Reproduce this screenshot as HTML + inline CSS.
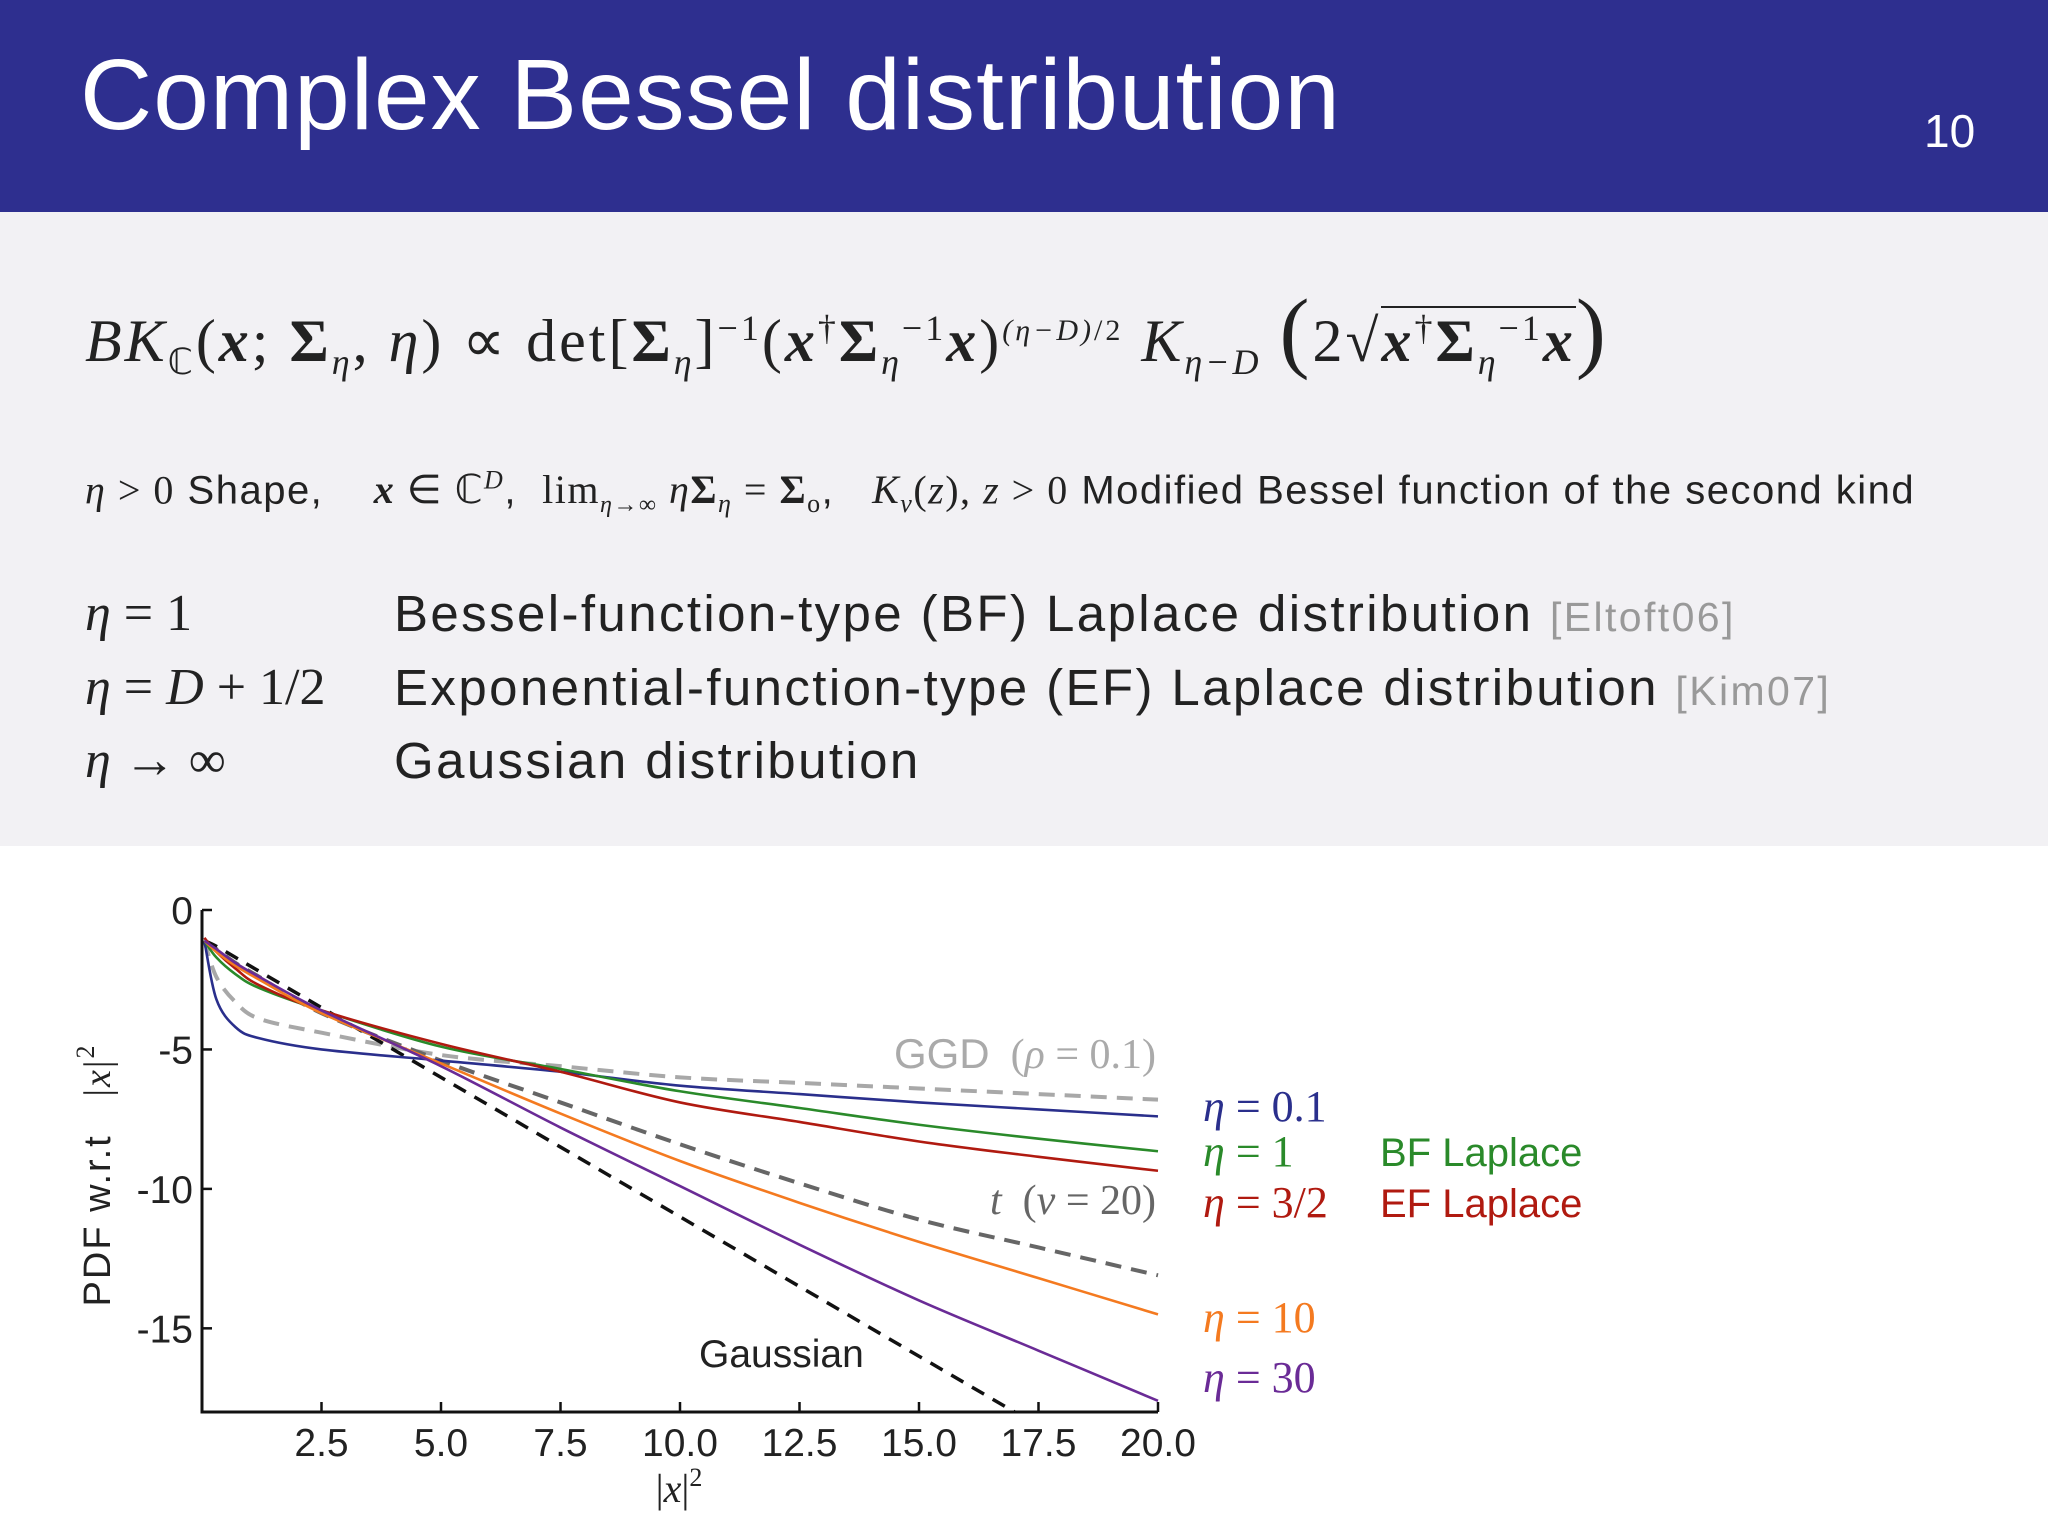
<!DOCTYPE html>
<html><head><meta charset="utf-8">
<style>
html,body{margin:0;padding:0}
body{width:2048px;height:1536px;position:relative;background:#fff;overflow:hidden;font-family:"Liberation Sans",sans-serif}
.hdr{position:absolute;left:0;top:0;width:2048px;height:212px;background:#2e2f8f}
.title{position:absolute;left:80px;top:38px;font-size:100px;color:#fff;letter-spacing:1px;white-space:nowrap}
.pg{position:absolute;left:1924px;top:104px;font-size:46px;color:#fff}
.body{position:absolute;left:0;top:212px;width:2048px;height:634px;background:#f2f1f4}
.m{font-family:"Liberation Serif",serif}
.t{position:absolute;white-space:nowrap;color:#222}
i{font-style:italic}
</style></head><body>
<div class="hdr">
<div class="title">Complex Bessel distribution</div>
<div class="pg">10</div>
</div>
<div class="body"></div>
<div class="t m" style="left:85px;top:280px;font-size:60px;letter-spacing:3px"><i>BK</i><sub style="font-size:36px">ℂ</sub>(<b><i>x</i></b>; <b>Σ</b><sub style="font-size:36px"><i>η</i></sub>, <i>η</i>) ∝ det[<b>Σ</b><sub style="font-size:36px"><i>η</i></sub>]<sup style="font-size:36px">−1</sup>(<b><i>x</i></b><sup style="font-size:36px">†</sup><b>Σ</b><sub style="font-size:36px"><i>η</i></sub><sup style="font-size:36px">−1</sup><b><i>x</i></b>)<sup style="font-size:30px"><i>(η−D)</i>/2</sup> <i>K</i><sub style="font-size:36px"><i>η−D</i></sub> <span style="font-size:90px">(</span>2√<span style="border-top:2px solid #222"><b><i>x</i></b><sup style="font-size:36px">†</sup><b>Σ</b><sub style="font-size:36px"><i>η</i></sub><sup style="font-size:36px">−1</sup><b><i>x</i></b></span><span style="font-size:90px">)</span></div>
<div class="t" style="left:85px;top:466px;font-size:40px;letter-spacing:1.5px"><span class="m"><i>η</i> &gt; 0</span> Shape,&nbsp;&nbsp;&nbsp; <span class="m"><b><i>x</i></b> ∈ ℂ<sup style="font-size:26px"><i>D</i></sup></span>, &nbsp;<span class="m">lim<sub style="font-size:24px"><i>η</i>→∞</sub> <i>η</i><b>Σ</b><sub style="font-size:26px"><i>η</i></sub> = <b>Σ</b><sub style="font-size:26px">o</sub></span>, &nbsp;&nbsp;<span class="m"><i>K<sub style="font-size:26px">ν</sub></i>(<i>z</i>), <i>z</i> &gt; 0</span> Modified Bessel function of the second kind</div>
<div class="t m" style="left:85px;top:584px;font-size:52px"><i>η</i> = 1</div>
<div class="t" style="left:394px;top:584px;font-size:51px;letter-spacing:2.4px">Bessel-function-type (BF) Laplace distribution <span style="color:#999;font-size:41px">[Eltoft06]</span></div>
<div class="t m" style="left:85px;top:658px;font-size:52px"><i>η</i> = <i>D</i> + 1/2</div>
<div class="t" style="left:394px;top:658px;font-size:51px;letter-spacing:2.4px">Exponential-function-type (EF) Laplace distribution <span style="color:#999;font-size:41px">[Kim07]</span></div>
<div class="t m" style="left:85px;top:731px;font-size:52px"><i>η</i> → ∞</div>
<div class="t" style="left:394px;top:731px;font-size:51px;letter-spacing:2.4px">Gaussian distribution</div>

<svg id="chart" width="2048" height="1536" style="position:absolute;left:0;top:0">
<defs><clipPath id="pc"><rect x="202" y="880" width="960" height="532"/></clipPath></defs>
<g id="series" clip-path="url(#pc)"></g>
<g id="axes"></g>
</svg>
<script>
const xs=[0.05,0.3,0.7,1.2,2.5,5,7.5,10,12.5,15,17.5,20];
const blueVals=[-1.1,-3.2,-4.2,-4.6,-5.0,-5.4,-5.8,-6.3,-6.6,-6.9,-7.15,-7.4];
const greenVals=[-1.1,-1.7,-2.3,-2.8,-3.6,-4.9,-5.7,-6.5,-7.1,-7.7,-8.2,-8.65];
const redVals=[-1.0,-1.5,-2.1,-2.7,-3.6,-4.8,-5.8,-6.9,-7.6,-8.3,-8.85,-9.35];
const orangeVals=[-1.1,-1.5,-2.0,-2.5,-3.7,-5.5,-7.3,-9.0,-10.5,-11.9,-13.2,-14.5];
const purpleVals=[-1.1,-1.4,-1.9,-2.4,-3.6,-5.6,-7.8,-9.9,-12.0,-14.0,-15.8,-17.6];
const gaussVals=[-1.1,-1.3,-1.7,-2.2,-3.5,-6.0,-8.5,-11.0,-13.5,-16.0,-18.5,-21.0];
const tVals=[-1.1,-1.4,-1.9,-2.4,-3.7,-5.4,-6.9,-8.4,-9.8,-11.1,-12.1,-13.1];
const ggdVals=[-1.1,-2.4,-3.3,-3.9,-4.4,-5.2,-5.6,-6.0,-6.2,-6.4,-6.6,-6.8];
const xTicks=[2.5,5,7.5,10,12.5,15,17.5,20];
const xTickLabels=["2.5","5.0","7.5","10.0","12.5","15.0","17.5","20.0"];
const yTicks=[0,-5,-10,-15];
const yTickLabels=["0","-5","-10","-15"];
const X=v=>202+v*(1158-202)/20;
const Y=v=>910-v*(1412-910)/18;
const NS="http://www.w3.org/2000/svg";
function path(vals){
  const p=xs.map((x,i)=>[X(x),Y(vals[i])]);
  let d="M"+p[0][0]+","+p[0][1];
  for(let i=0;i<p.length-1;i++){
    const p0=p[Math.max(i-1,0)],p1=p[i],p2=p[i+1],p3=p[Math.min(i+2,p.length-1)];
    const c1=[p1[0]+(p2[0]-p0[0])/6,p1[1]+(p2[1]-p0[1])/6];
    const c2=[p2[0]-(p3[0]-p1[0])/6,p2[1]-(p3[1]-p1[1])/6];
    d+=" C"+c1+" "+c2+" "+p2;
  }
  return d;
}
const sg=document.getElementById('series');
function addLine(vals,color,w,dash,name){
  const e=document.createElementNS(NS,'path');
  e.setAttribute('d',path(vals));
  e.setAttribute('fill','none');e.setAttribute('stroke',color);e.setAttribute('stroke-width',w);
  if(dash)e.setAttribute('stroke-dasharray',dash);
  
  
  sg.appendChild(e);
}
addLine(ggdVals,'#a8a8a8',4,'16,10','ggd-line');
addLine(tVals,'#666666',4,'16,10','t-line');
addLine(gaussVals,'#111111',3.5,'14,10','gaussian-line');
addLine(blueVals,'#2a2f8c',2.6,null,'eta-0.1-line');
addLine(greenVals,'#2a8a2a',2.6,null,'eta-1-line');
addLine(redVals,'#b01a10',2.6,null,'eta-1.5-line');
addLine(orangeVals,'#f47a20',2.6,null,'eta-10-line');
addLine(purpleVals,'#6a2b96',2.6,null,'eta-30-line');
const ax=document.getElementById('axes');
function el(tag,attrs,text){const e=document.createElementNS(NS,tag);for(const k in attrs)e.setAttribute(k,attrs[k]);if(text!==undefined)e.textContent=text;ax.appendChild(e);return e;}
let a=el('path',{d:"M202,910 V1412 H1158",fill:'none',stroke:'#111','stroke-width':3});


xTicks.forEach((v,i)=>{
  let t=el('line',{x1:X(v),x2:X(v),y1:1412,y2:1402,stroke:'#111','stroke-width':2.5});
  
  
  let l=el('text',{x:X(v),y:1456,'text-anchor':'middle','font-size':39,fill:'#222','font-family':'Liberation Sans, sans-serif'},xTickLabels[i]);
  
  
});
yTicks.forEach((v,i)=>{
  let t=el('line',{x1:202,x2:212,y1:Y(v),y2:Y(v),stroke:'#111','stroke-width':2.5});
  
  
  let l=el('text',{x:193,y:Y(v)+14,'text-anchor':'end','font-size':39,fill:'#222','font-family':'Liberation Sans, sans-serif'},yTickLabels[i]);
  
  
});
function lab(x,y,txt,color,size,name,anchor,ff){
  let l=el('text',{x:x,y:y,fill:color,'font-size':size,'text-anchor':anchor||'start','font-family':ff||'Liberation Serif, serif'},'');
  l.innerHTML=txt;
  
  
}
lab(679,1502,'|<tspan font-style="italic">x</tspan>|<tspan font-size="26" dy="-16">2</tspan>','#222',40,'x-axis-title','middle');
let yl=el('text',{x:0,y:0,transform:'translate(110,1175) rotate(-90)','text-anchor':'middle','font-size':38,fill:'#222','font-family':'Liberation Sans, sans-serif','letter-spacing':2},'');
yl.innerHTML='PDF w.r.t &#160;&#160;<tspan font-family="Liberation Serif, serif">|<tspan font-style="italic">x</tspan>|<tspan font-size="26" dy="-16">2</tspan></tspan>';


lab(1156,1068,'<tspan font-family="Liberation Sans, sans-serif">GGD</tspan> &#160;(<tspan font-style="italic">ρ</tspan> = 0.1)','#aaaaaa',42,'ggd-label','end');
lab(1156,1214,'<tspan font-style="italic">t</tspan> &#160;(<tspan font-style="italic">ν</tspan> = 20)','#666666',42,'t-label','end');
lab(699,1367,'Gaussian','#222',39,'gaussian-label','start','Liberation Sans, sans-serif');
lab(1203,1121,'<tspan font-style="italic">η</tspan> = 0.1','#2a2f8c',44,'legend-eta-0.1');
lab(1203,1166,'<tspan font-style="italic">η</tspan> = 1','#2a8a2a',44,'legend-eta-1');
lab(1380,1166,'BF Laplace','#2a8a2a',40,'legend-bf-laplace','start','Liberation Sans, sans-serif');
lab(1203,1217,'<tspan font-style="italic">η</tspan> = 3/2','#b01a10',44,'legend-eta-1.5');
lab(1380,1217,'EF Laplace','#b01a10',40,'legend-ef-laplace','start','Liberation Sans, sans-serif');
lab(1203,1332,'<tspan font-style="italic">η</tspan> = 10','#f47a20',44,'legend-eta-10');
lab(1203,1392,'<tspan font-style="italic">η</tspan> = 30','#6a2b96',44,'legend-eta-30');
</script>
</body></html>
